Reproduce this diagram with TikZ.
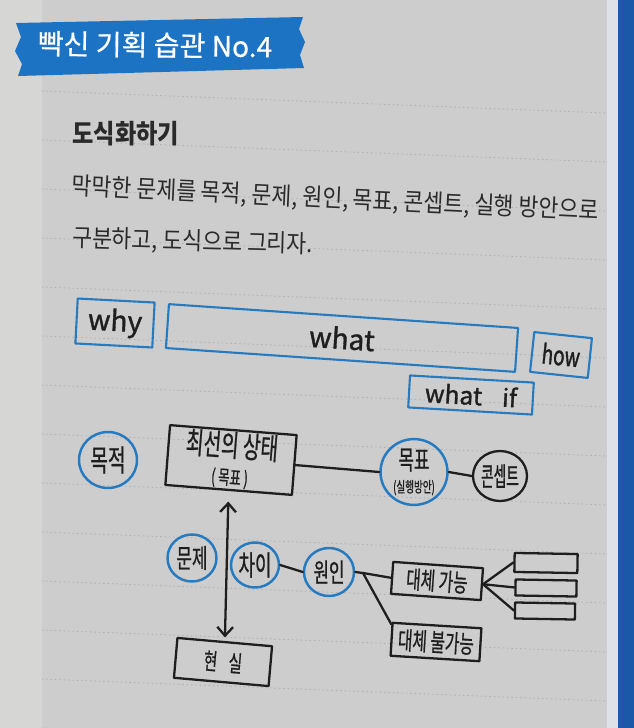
\documentclass[tikz,border=0pt]{standalone}
\usepackage{fontspec}
\usetikzlibrary{shapes.geometric,arrows.meta}
\newfontfamily\krtext{Noto Sans CJK KR}[FakeStretch=0.88]
\newfontfamily\krhand{Noto Sans CJK KR}[FakeStretch=0.64,FakeBold=0.8]
\newfontfamily\enhand{Noto Sans CJK KR}[FakeBold=1.2]
\newfontfamily\krtape{Noto Sans CJK KR}[FakeBold=0.6]
\definecolor{paper}{RGB}{205,205,205}
\definecolor{margin}{RGB}{214,214,212}
\definecolor{edge}{RGB}{222,226,232}
\definecolor{cover}{RGB}{28,88,168}
\definecolor{tape}{RGB}{28,115,196}
\definecolor{pen}{RGB}{38,122,192}
\definecolor{ink}{RGB}{30,30,30}
\definecolor{print}{RGB}{42,42,42}
\definecolor{rule}{RGB}{176,176,176}
\newcommand\pensize[1]{\fontsize{#1}{#1}\selectfont}
\begin{document}
\begin{tikzpicture}[x=0.02cm,y=-0.02cm,line join=round,line cap=round,>={Straight Barb[length=5pt,width=9pt]},
  bluebox/.style={draw=pen,line width=1.2pt,inner sep=0pt,text=ink,font=\enhand\pensize{16}},
  inkbox/.style={draw=ink,line width=1.3pt,inner sep=0pt,text=ink,font=\krhand\pensize{14}},
  bluering/.style={ellipse,draw=pen,line width=1.4pt,inner sep=0pt,text=ink,font=\krhand\pensize{16}},
  inkring/.style={ellipse,draw=ink,line width=1.3pt,inner sep=0pt,text=ink,font=\krhand\pensize{15}},
  wire/.style={draw=ink,line width=1.3pt}]
\useasboundingbox (0,0) rectangle (634,728);
% page, margin and cover
\fill[paper] (0,0) rectangle (634,728);
\fill[margin] (0,0) rectangle (42,728);
\fill[edge] (607,0) rectangle (618,728);
\fill[cover] (618,0) rectangle (634,728);
\foreach \y in {91,140,...,728}
  \draw[rule,dotted,line width=0.5pt] (42,\y) -- (607,\y+22);
% tape title
\fill[tape] (16,23) -- (303,17) -- (299,29) -- (305,42) -- (300,55) -- (304,68) -- (18,76) -- (22,64) -- (15,51) -- (21,37) -- cycle;
\node[font=\krtape\pensize{16},text=white,rotate=-0.8] (tapetext) at (155,45) {빡신 기획 습관 No.4};
% heading and text
\node[anchor=west,inner sep=0pt,text=print,font=\krtext\bfseries\pensize{15}] (title) at (72,134) {도식화하기};
\node[anchor=west,inner sep=0pt,text=print,rotate=-2.7,font=\krtext\pensize{14}] (line1) at (72,187) {막막한 문제를 목적, 문제, 원인, 목표, 콘셉트, 실행 방안으로};
\node[anchor=west,inner sep=0pt,text=print,rotate=-1.5,font=\krtext\pensize{14}] (line2) at (72,239) {구분하고, 도식으로 그리자.};
% why what how
\node[bluebox,minimum width=1.54cm,minimum height=0.9cm,rotate=-3] (why) at (115,323) {why};
\node[bluebox,minimum width=7cm,minimum height=0.88cm,rotate=-3.9] (what) at (342,338) {what};
\node[bluebox,minimum width=1.16cm,minimum height=0.8cm,rotate=-6,font=\enhand\pensize{15}\addfontfeature{FakeStretch=0.72}] (how) at (561,355) {how};
\node[bluebox,minimum width=2.48cm,minimum height=0.64cm,rotate=-3.3,font=\enhand\pensize{14}] (whatif) at (471,395) {what\hspace{0.4cm}if};
% diagram
\node[bluering,minimum width=1.16cm,minimum height=1.12cm,font=\krhand\pensize{17}] (purpose) at (108,460) {목적};
\node[inkbox,minimum width=2.54cm,minimum height=1.2cm,align=center,rotate=-4.5,font=\krhand\pensize{17}] (best) at (231,460) {최선의 상태\\[-1pt]{\pensize{11}( 목표 )}};
\node[bluering,minimum width=1.34cm,minimum height=1.3cm,align=center,font=\krhand\pensize{15}] (goal) at (414,472) {목표\\[-2pt]{\pensize{8.5}(실행방안)}};
\node[inkring,minimum width=1.08cm,minimum height=1.0cm,font=\krhand\pensize{15}\addfontfeature{FakeStretch=0.52}] (concept) at (500,476) {콘셉트};
\node[bluering,minimum width=0.98cm,minimum height=0.94cm,font=\krhand\pensize{15}] (problem) at (192,558) {문제};
\node[bluering,minimum width=0.96cm,minimum height=0.9cm] (gap) at (255,565) {차이};
\node[bluering,minimum width=1.0cm,minimum height=0.96cm,font=\krhand\pensize{15}] (cause) at (329,572) {원인};
\node[inkbox,minimum width=1.8cm,minimum height=0.64cm,rotate=-4] (alt) at (437,581) {대체 가능};
\node[inkbox,minimum width=1.78cm,minimum height=0.66cm,rotate=-3.5] (noalt) at (436,642) {대체 불가능};
\node[inkbox,minimum width=1.9cm,minimum height=0.8cm,rotate=-5,font=\krhand\pensize{13}] (real) at (223,662) {현\,\,\,실};
\node[inkbox,minimum width=1.26cm,minimum height=0.38cm,rotate=-1] (opt1) at (546,563) {};
\node[inkbox,minimum width=1.22cm,minimum height=0.32cm,rotate=-1] (opt2) at (546,588) {};
\node[inkbox,minimum width=1.2cm,minimum height=0.32cm,rotate=-1] (opt3) at (545,611) {};
\coordinate (split) at (363,573);
\draw[wire] (best.east) -- (goal.west);
\draw[wire] (goal.east) -- (concept.west);
\draw[wire] (gap.east) -- (cause.west);
\draw[wire] (cause.east) -- (split) -- (alt.west);
\draw[wire] (split) -- (noalt.162);
\draw[wire] (alt.east) -- (opt1.west);
\draw[wire] (alt.east) -- (opt2.west);
\draw[wire] (alt.east) -- (opt3.west);
\draw[wire,<->,shorten <=6pt,shorten >=2pt] (best.south) -- (real.north);
\end{tikzpicture}
\end{document}
